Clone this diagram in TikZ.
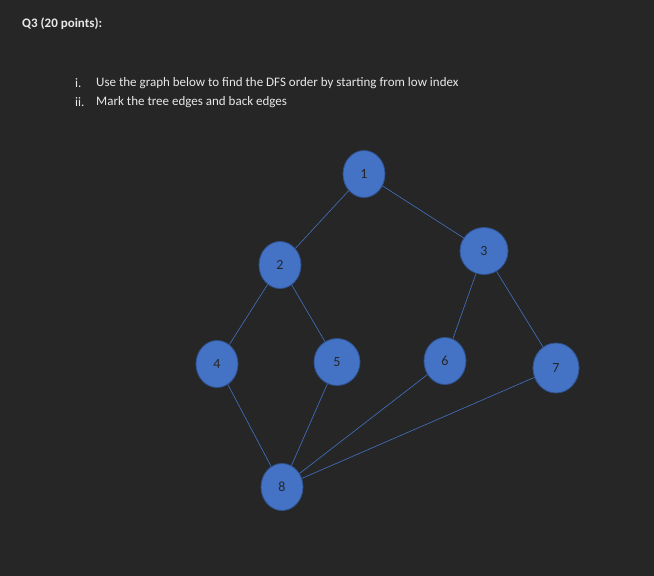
\documentclass[tikz,border=0pt]{standalone}
\usepackage{fontspec}
\setmainfont{Carlito}
\usetikzlibrary{shapes.geometric}
\definecolor{bg}{HTML}{262626}
\definecolor{nb}{HTML}{4472C4}
\definecolor{nd}{HTML}{2F528F}
\definecolor{tx}{HTML}{E8E8E8}
\begin{document}
\begin{tikzpicture}[x=1pt,y=-1pt,
  vert/.style={ellipse,fill=nb,draw=nd,line width=0.8pt,minimum width=42pt,minimum height=47pt,inner sep=0pt,font=\fontsize{14}{16}\selectfont,text=bg},
  edge/.style={draw=nb,line width=0.6pt},
  txt/.style={anchor=west,text=tx,font=\fontsize{13}{15}\selectfont,inner sep=0pt}]
\fill[bg] (0,0) rectangle (654,576);
\useasboundingbox (0,0) rectangle (654,576);
\node[txt,font=\fontsize{13}{15}\selectfont\bfseries] (t0) at (22,24) {Q3 (20 points):};
\node[txt] (i1) at (75,83) {i.};
\node[txt] (l1) at (96,83) {Use the graph below to find the DFS order by starting from low index};
\node[txt] (i2) at (75,102) {ii.};
\node[txt] (l2) at (96,102) {Mark the tree edges and back edges};
\node[vert] (n1) at (364,174) {1};
\node[vert] (n2) at (280,265) {2};
\node[vert,minimum width=48pt] (n3) at (484,251) {3};
\node[vert] (n4) at (217,364) {4};
\node[vert,minimum width=46pt] (n5) at (337,362) {5};
\node[vert] (n6) at (445,361) {6};
\node[vert,minimum width=46pt,minimum height=50pt] (n7) at (556,368) {7};
\node[vert] (n8) at (282,487) {8};
\draw[edge] (n1)--(n2); \draw[edge] (n1)--(n3);
\draw[edge] (n2)--(n4); \draw[edge] (n2)--(n5);
\draw[edge] (n3)--(n6); \draw[edge] (n3)--(n7);
\draw[edge] (n4)--(n8); \draw[edge] (n5)--(n8);
\draw[edge] (n6)--(n8); \draw[edge] (n7)--(n8);
\end{tikzpicture}
\end{document}
